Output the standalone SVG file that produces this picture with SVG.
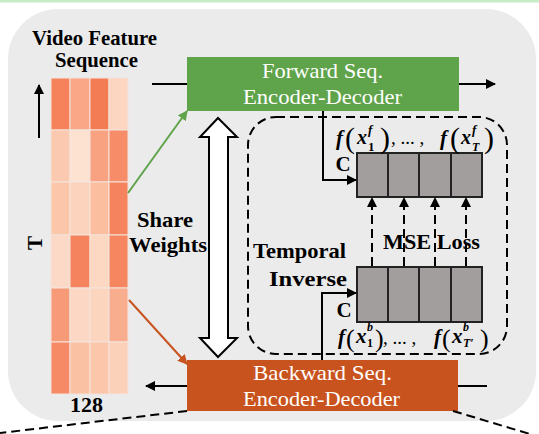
<svg xmlns="http://www.w3.org/2000/svg" width="539" height="434" viewBox="0 0 539 434">
<style>
.t{font-family:"Liberation Serif","Times New Roman",serif;}
.b{font-weight:bold;}
.w{fill:#ffffff;font-size:21px;}
.lbl{font-size:21px;font-weight:bold;fill:#000;}
.cell{stroke:#222;stroke-width:2;fill:#a39e9e;}
.ln{stroke:#000;stroke-width:2;fill:none;}
.dash{stroke:#000;stroke-width:2;fill:none;stroke-dasharray:9,5;}
.mi{font-style:italic;font-weight:bold;}
.mn{font-style:normal;font-weight:normal;}
</style>
<defs>
<marker id="ah" markerWidth="10" markerHeight="10" refX="9" refY="5" orient="auto" markerUnits="userSpaceOnUse"><path d="M0,0 L10,5 L0,10 z" fill="#000"/></marker>
<marker id="ahg" markerWidth="10" markerHeight="10" refX="9" refY="5" orient="auto" markerUnits="userSpaceOnUse"><path d="M0,0 L10,5 L0,10 z" fill="#5fa34a"/></marker>
<marker id="aho" markerWidth="10" markerHeight="10" refX="9" refY="5" orient="auto" markerUnits="userSpaceOnUse"><path d="M0,0 L10,5 L0,10 z" fill="#c8531e"/></marker>
</defs>
<rect x="0" y="0" width="539" height="2.5" fill="#c8ebc8"/>
<rect x="8" y="9" width="528" height="412" rx="50" fill="#ebebeb"/>

<g id="heatmap" stroke="#f4e4dc" stroke-width="1">
<rect x="51" y="78" width="19" height="52" fill="#f5825b"/>
<rect x="70" y="78" width="20" height="52" fill="#f9a786"/>
<rect x="90" y="78" width="19" height="52" fill="#f47c55"/>
<rect x="109" y="78" width="19" height="52" fill="#fcd6c1"/>
<rect x="51" y="130" width="19" height="52" fill="#fbc9af"/>
<rect x="70" y="130" width="20" height="52" fill="#fde2d2"/>
<rect x="90" y="130" width="19" height="52" fill="#f9a282"/>
<rect x="109" y="130" width="19" height="52" fill="#f68d68"/>
<rect x="51" y="182" width="19" height="53" fill="#fbc6aa"/>
<rect x="70" y="182" width="20" height="53" fill="#fcd3bc"/>
<rect x="90" y="182" width="19" height="53" fill="#fbbf9f"/>
<rect x="109" y="182" width="19" height="53" fill="#f5845e"/>
<rect x="51" y="235" width="19" height="53" fill="#fcd9c6"/>
<rect x="70" y="235" width="20" height="53" fill="#f5845e"/>
<rect x="90" y="235" width="19" height="53" fill="#fcd7c2"/>
<rect x="109" y="235" width="19" height="53" fill="#f5865f"/>
<rect x="51" y="288" width="19" height="54" fill="#f79a77"/>
<rect x="70" y="288" width="20" height="54" fill="#fcd8c4"/>
<rect x="90" y="288" width="19" height="54" fill="#fcd5bf"/>
<rect x="109" y="288" width="19" height="54" fill="#f9ad8f"/>
<rect x="51" y="342" width="19" height="52" fill="#f68a66"/>
<rect x="70" y="342" width="20" height="52" fill="#fbc1a3"/>
<rect x="90" y="342" width="19" height="52" fill="#fbc6aa"/>
<rect x="109" y="342" width="19" height="52" fill="#fcd1b9"/>
</g>

<g id="heatmap-labels">
<text class="t lbl" x="32" y="45" font-size="20" textLength="125" lengthAdjust="spacingAndGlyphs">Video Feature</text>
<text class="t lbl" x="55" y="67" font-size="20" textLength="83" lengthAdjust="spacingAndGlyphs">Sequence</text>
<text class="t lbl" x="70" y="412" textLength="33" lengthAdjust="spacingAndGlyphs">128</text>
<text class="t lbl" x="0" y="0" font-size="15" text-anchor="middle" transform="translate(42,243) rotate(-90)">T</text>
</g>

<g id="forward">
<rect x="187" y="57" width="272" height="54" fill="#5fa34a"/>
<text class="t w" x="262" y="78" textLength="121" lengthAdjust="spacingAndGlyphs">Forward Seq.</text>
<text class="t w" x="243" y="104" textLength="159" lengthAdjust="spacingAndGlyphs">Encoder-Decoder</text>
</g>

<g id="backward">
<rect x="187" y="360" width="271" height="51" fill="#c8531e"/>
<text class="t w" x="253" y="380" textLength="139" lengthAdjust="spacingAndGlyphs">Backward Seq.</text>
<text class="t w" x="243" y="406" textLength="157" lengthAdjust="spacingAndGlyphs">Encoder-Decoder</text>
</g>

<g id="temporal-region">
<rect class="dash" x="248" y="117" width="259" height="237" rx="28"/>
<text class="t lbl" x="253" y="258" textLength="93" lengthAdjust="spacingAndGlyphs">Temporal</text>
<text class="t lbl" x="269" y="286" textLength="78" lengthAdjust="spacingAndGlyphs">Inverse</text>
</g>

<g id="forward-features">
<rect class="cell" x="357" y="153" width="31" height="44"/>
<rect class="cell" x="388" y="153" width="31" height="44"/>
<rect class="cell" x="419" y="153" width="32" height="44"/>
<rect class="cell" x="451" y="153" width="31" height="44"/>
<text class="t lbl" x="343" y="171" font-size="17" text-anchor="middle">C</text>
</g>

<g id="backward-features">
<rect class="cell" x="357" y="267" width="31" height="55"/>
<rect class="cell" x="388" y="267" width="31" height="55"/>
<rect class="cell" x="419" y="267" width="32" height="55"/>
<rect class="cell" x="451" y="267" width="31" height="55"/>
<text class="t lbl" x="344" y="317" font-size="17" text-anchor="middle">C</text>
</g>

<g id="share-weights">
<polygon points="218,118 237,137 228,137 228,338 237,338 218,357 200,338 209,338 209,137 200,137" fill="#ffffff" stroke="#000" stroke-width="2" stroke-linejoin="miter"/>
<text class="t lbl" x="137" y="227" textLength="56" lengthAdjust="spacingAndGlyphs">Share</text>
<text class="t lbl" x="129" y="252" textLength="78" lengthAdjust="spacingAndGlyphs">Weights</text>
</g>

<g id="connectors">
<line class="ln" x1="39" y1="138" x2="39" y2="85" marker-end="url(#ah)"/>
<line class="ln" x1="152" y1="84" x2="187" y2="84"/>
<line class="ln" x1="459" y1="84" x2="495" y2="84" marker-end="url(#ah)"/>
<line class="ln" x1="187" y1="386" x2="146" y2="386" marker-end="url(#ah)"/>
<line class="ln" x1="458" y1="386" x2="487" y2="386"/>
<line x1="128" y1="193" x2="187" y2="111" stroke="#5fa34a" stroke-width="2" marker-end="url(#ahg)"/>
<line x1="129" y1="300" x2="187" y2="364" stroke="#c8531e" stroke-width="2" marker-end="url(#aho)"/>
<polyline class="ln" points="323,111 323,180 356,180" marker-end="url(#ah)"/>
<polyline class="ln" points="322,360 322,293 356,293" marker-end="url(#ah)"/>
<line class="dash" x1="372" y1="266" x2="372" y2="198" marker-end="url(#ah)"/>
<line class="dash" x1="404" y1="266" x2="404" y2="198" marker-end="url(#ah)"/>
<line class="dash" x1="435" y1="266" x2="435" y2="198" marker-end="url(#ah)"/>
<line class="dash" x1="466" y1="266" x2="466" y2="198" marker-end="url(#ah)"/>
<line class="dash" x1="187" y1="411" x2="0" y2="433"/>
<line class="dash" x1="453" y1="411" x2="530" y2="434"/>
</g>

<g id="mse-label">
<text class="t lbl" x="383" y="249" textLength="97" lengthAdjust="spacingAndGlyphs">MSE Loss</text>
</g>

<g id="forward-math">
<text class="t mi" font-size="21"><tspan x="336" y="145">f</tspan><tspan class="mn" x="345" y="148" font-size="30">(</tspan><tspan x="357" y="144" font-size="20">x</tspan><tspan x="368" y="134" font-size="13">f</tspan><tspan class="b" font-style="normal" x="368" y="151" font-size="13">1</tspan><tspan class="mn" x="380" y="148" font-size="30">)</tspan><tspan class="mn" x="391" y="144" font-size="19">, ... ,</tspan><tspan x="440" y="145">f</tspan><tspan class="mn" x="450" y="148" font-size="30">(</tspan><tspan x="461" y="144" font-size="20">x</tspan><tspan x="472" y="134" font-size="13">f</tspan><tspan x="472" y="151" font-size="12">T</tspan><tspan class="mn" x="484" y="148" font-size="30">)</tspan></text>
</g>

<g id="backward-math">
<text class="t mi" font-size="21"><tspan x="338" y="344">f</tspan><tspan class="mn" x="346" y="347" font-size="26">(</tspan><tspan x="356" y="343">x</tspan><tspan x="367" y="331" font-size="12">b</tspan><tspan class="b" font-style="normal" x="367" y="347" font-size="12">1</tspan><tspan class="mn" x="375" y="347" font-size="26">)</tspan><tspan class="mn" x="383" y="344" font-size="19">, ... ,</tspan><tspan x="434" y="344">f</tspan><tspan class="mn" x="442" y="347" font-size="26">(</tspan><tspan x="452" y="343">x</tspan><tspan x="463" y="331" font-size="12">b</tspan><tspan x="463" y="347" font-size="12">T′</tspan><tspan class="mn" x="480" y="347" font-size="26">)</tspan></text>
</g>
</svg>
